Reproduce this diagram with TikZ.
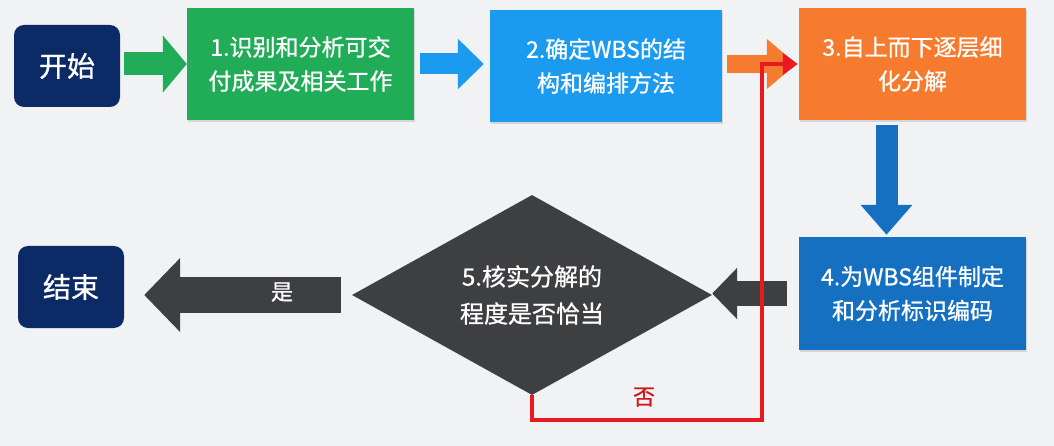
\documentclass[tikz,border=0pt]{standalone}
\usepackage{fontspec}
\newfontfamily\cjk[FakeBold=0.9]{Noto Sans CJK SC}
\usetikzlibrary{shapes.geometric,arrows.meta,shadows,calc}
\definecolor{bgc}{HTML}{F1F2F4}
\definecolor{navy}{HTML}{0C2A66}
\definecolor{greenc}{HTML}{21AD58}
\definecolor{bluec}{HTML}{1B9BEF}
\definecolor{orangec}{HTML}{F77B2E}
\definecolor{darkblue}{HTML}{1670C2}
\definecolor{darkc}{HTML}{3E3F41}
\definecolor{redc}{HTML}{E8191F}
\definecolor{redt}{HTML}{D0161C}
\tikzset{
  txt/.style={text=white, font=\cjk\fontsize{23}{34}\selectfont, align=center},
  terminal/.style={txt, rectangle, rounded corners=10pt, fill=navy, minimum width=106pt, minimum height=82pt, inner sep=0pt, font=\cjk\fontsize{28}{34}\selectfont},
  stepbox/.style={txt, rectangle, minimum width=227pt, minimum height=112pt, inner sep=0pt,
    drop shadow={shadow xshift=1pt, shadow yshift=-2pt, opacity=0.25}},
  fat/.style={line width=#1, line cap=butt},
}
\begin{document}
\begin{tikzpicture}[x=1pt,y=-1pt]
\fill[bgc] (0,0) rectangle (1054,446);
\useasboundingbox (0,0) rectangle (1054,446);

\node[terminal] (start) at (67,66) {开始};
\node[stepbox, fill=greenc] (b1) at (300.5,64) {1.识别和分析可交\\付成果及相关工作};
\node[stepbox, fill=bluec, minimum width=232pt] (b2) at (606,66) {2.确定WBS的结\\构和编排方法};
\node[stepbox, fill=orangec] (b3) at (912.5,64) {3.自上而下逐层细\\化分解};
\node[stepbox, fill=darkblue, minimum height=113pt] (b4) at (912.5,293.5) {4.为WBS组件制定\\和分析标识编码};
\node[diamond, fill=darkc, minimum width=360pt, minimum height=200pt, shape aspect=1.8, inner sep=0pt, txt, font=\cjk\fontsize{24}{37}\selectfont] (dia) at (532,295) {5.核实分解的\\程度是否恰当};
\node[terminal] (end) at (71,287) {结束};

% fat arrows
\draw[fat=23pt, greenc, -{Triangle[length=24pt,width=56pt]}, shorten <=4pt] (start.east |- b1.west) -- (b1.west);
\draw[fat=21pt, bluec, -{Triangle[length=26pt,width=49pt]}, shorten <=6pt, shorten >=6pt] (b1.east) -- (b1.east -| b2.west);
\draw[fat=18pt, orangec, -{Triangle[length=30pt,width=48pt]}, shorten <=5pt, shorten >=2pt] (b2.east |- b3.west) -- (b3.west);
\draw[fat=22pt, darkblue, -{Triangle[length=30pt,width=50pt]}, shorten <=5pt, shorten >=2pt] ([xshift=-26pt]b3.south) -- ([xshift=-26pt]b4.north);
\draw[fat=25pt, darkc, -{Triangle[length=25pt,width=50pt]}, shorten <=12pt] (b4.west) -- (b4.west -| dia.east);
\draw[fat=36pt, darkc, -{Triangle[length=36pt,width=72pt]}, shorten <=11pt, shorten >=20pt] (dia.west) -- (dia.west -| end.east);
\node[text=white, font=\cjk\fontsize{22}{26}\selectfont] (yes) at (282,292) {是};

% red feedback connector
\coordinate (rc) at (762,420);
\draw[redc, line width=4pt, -{Triangle[length=15pt,width=21pt]}, shorten >=1pt] (dia.south) |- (rc) |- (b3.west);
\node[text=redt, font=\cjk\fontsize{22}{26}\selectfont] (no) at (644,397) {否};
\end{tikzpicture}
\end{document}
